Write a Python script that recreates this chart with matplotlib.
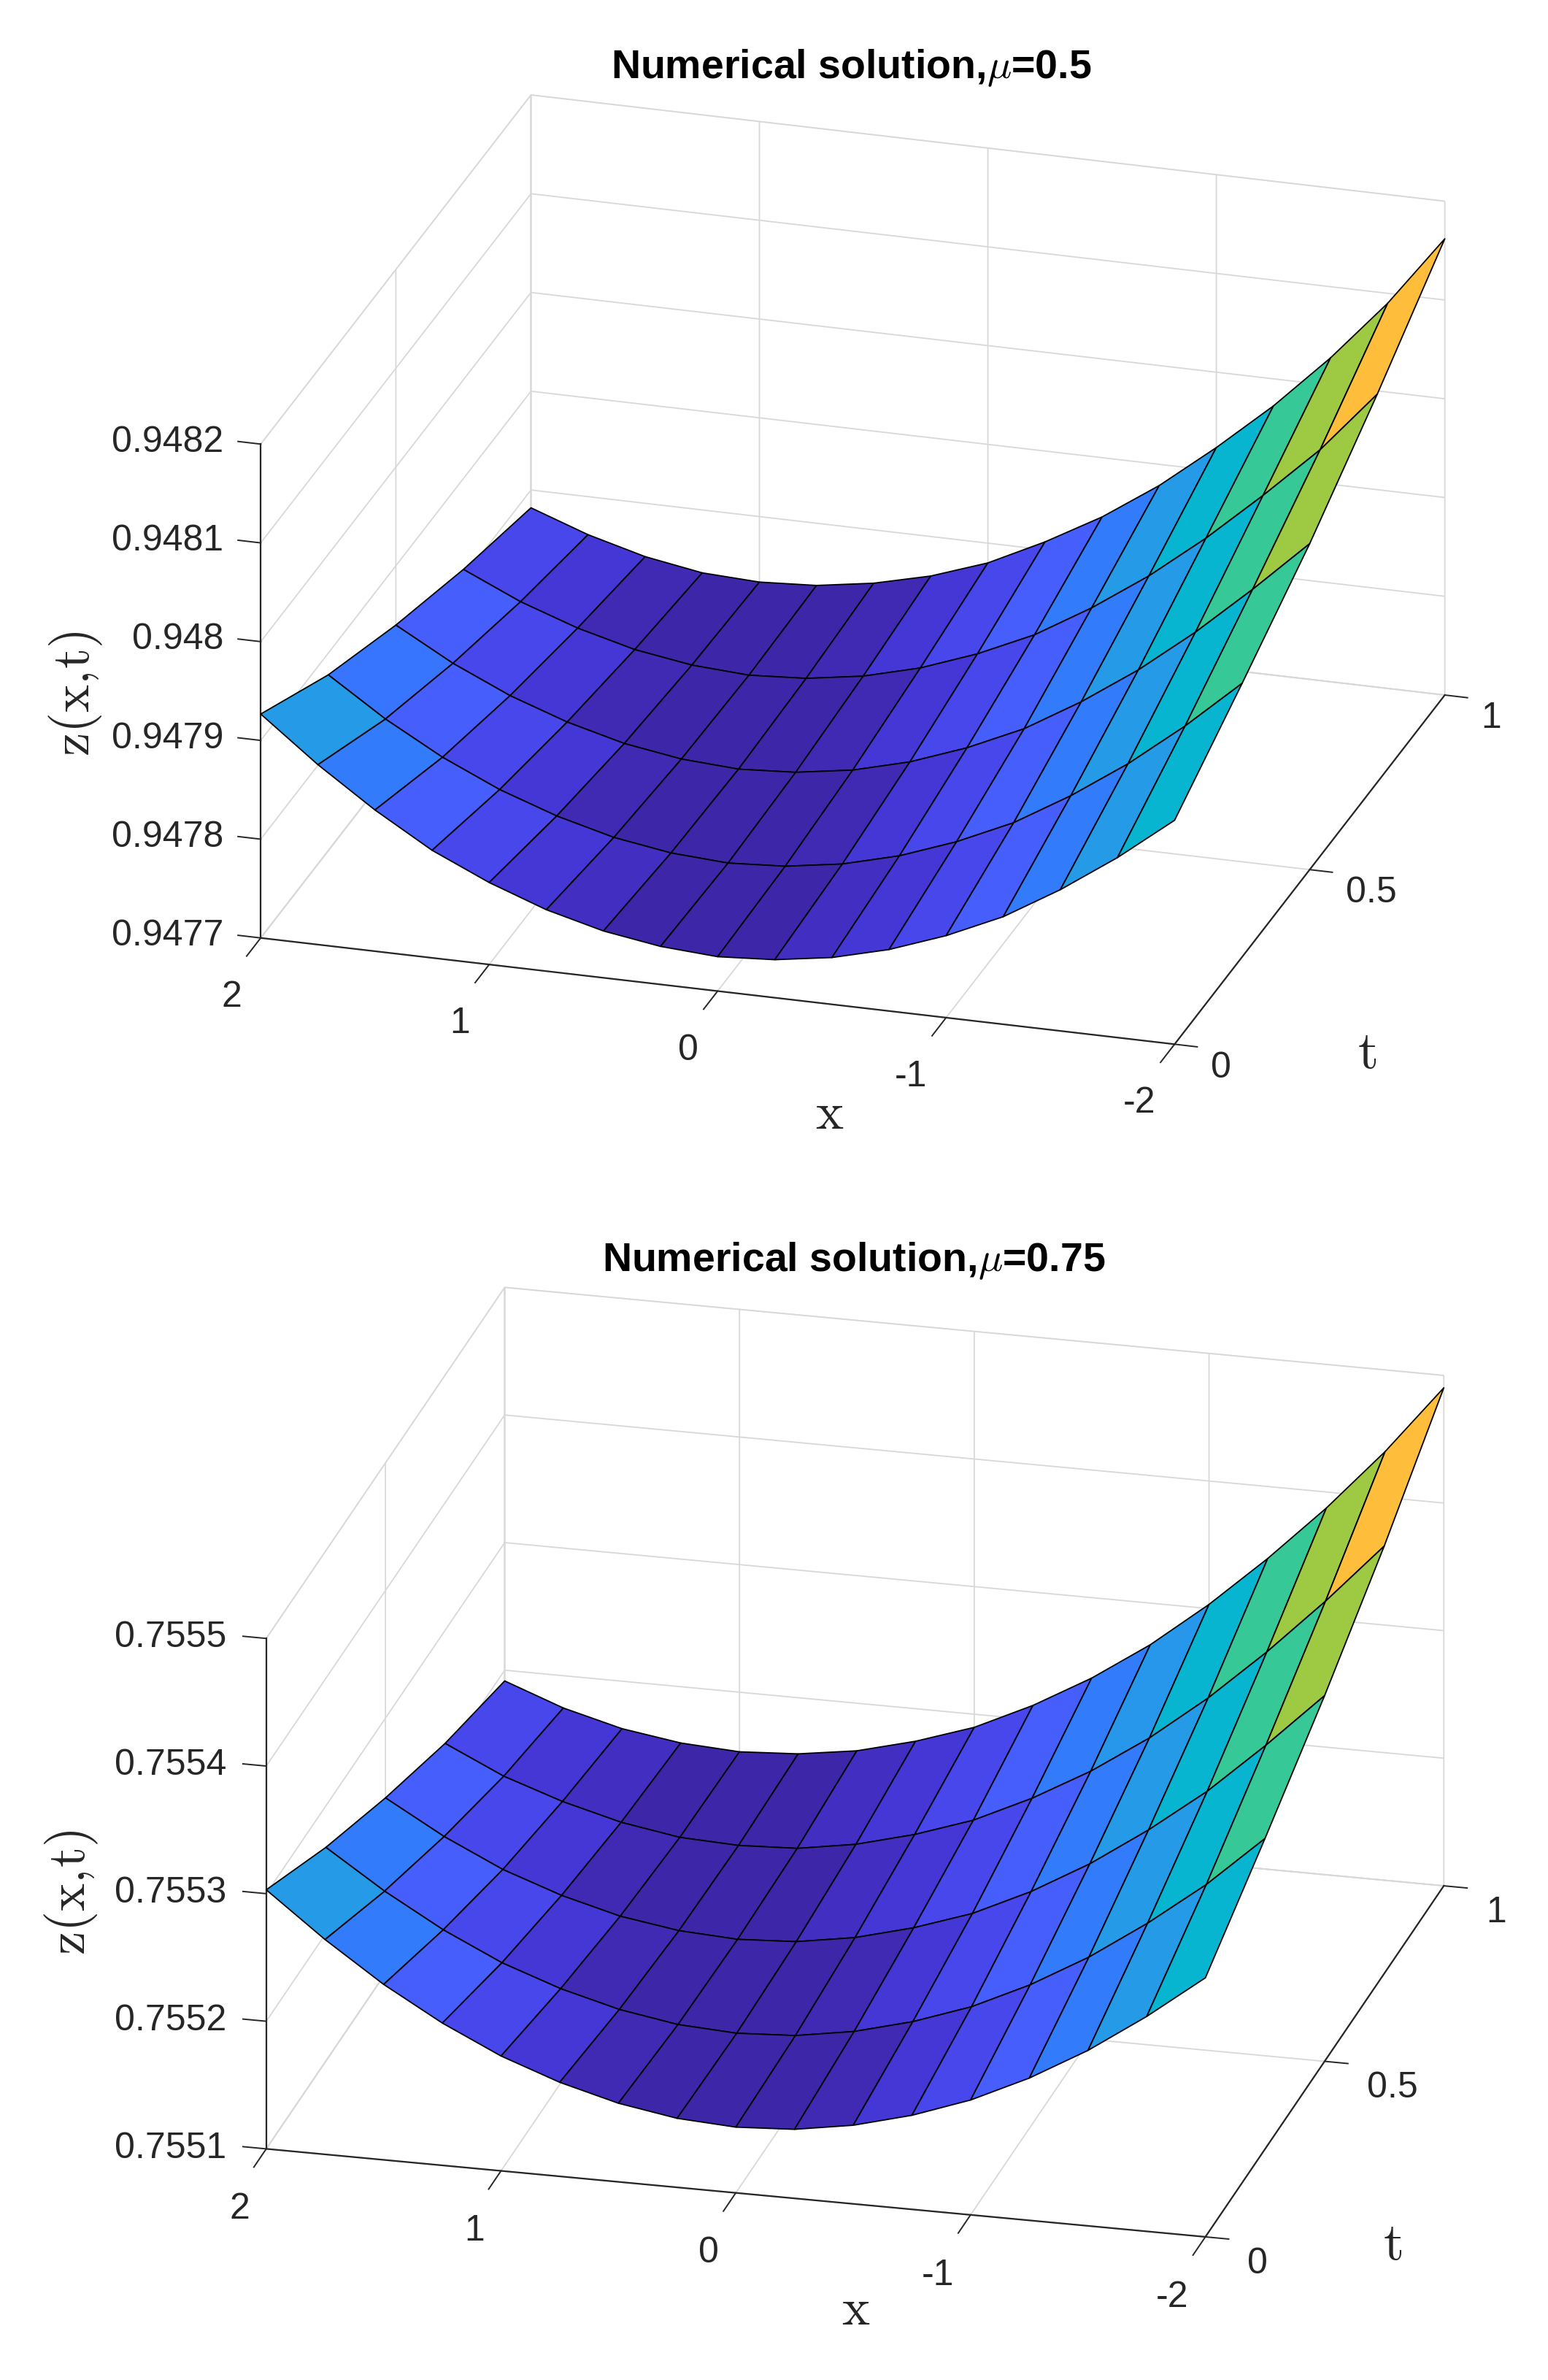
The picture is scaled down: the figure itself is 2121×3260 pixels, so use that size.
import numpy as np
import matplotlib
matplotlib.use("Agg")
import matplotlib.pyplot as plt
from matplotlib.colors import ListedColormap, Normalize

plt.rcParams['font.family'] = ['Liberation Sans', 'DejaVu Sans']
plt.rcParams['mathtext.fontset'] = 'cm'

parula = ListedColormap([
 [0.2422,0.1504,0.6603],[0.2504,0.1650,0.7076],[0.2578,0.1818,0.7511],[0.2647,0.1978,0.7952],
 [0.2706,0.2147,0.8364],[0.2751,0.2342,0.8710],[0.2783,0.2559,0.8991],[0.2803,0.2782,0.9221],
 [0.2813,0.3006,0.9414],[0.2810,0.3228,0.9579],[0.2795,0.3447,0.9717],[0.2760,0.3667,0.9829],
 [0.2699,0.3892,0.9906],[0.2602,0.4123,0.9952],[0.2440,0.4358,0.9988],[0.2206,0.4603,0.9973],
 [0.1963,0.4847,0.9892],[0.1834,0.5074,0.9798],[0.1786,0.5289,0.9682],[0.1764,0.5499,0.9520],
 [0.1687,0.5703,0.9359],[0.1540,0.5902,0.9218],[0.1460,0.6091,0.9079],[0.1380,0.6276,0.8973],
 [0.1248,0.6459,0.8883],[0.1113,0.6635,0.8763],[0.0952,0.6798,0.8598],[0.0689,0.6948,0.8394],
 [0.0297,0.7082,0.8163],[0.0036,0.7203,0.7917],[0.0067,0.7312,0.7660],[0.0433,0.7411,0.7394],
 [0.0964,0.7500,0.7120],[0.1408,0.7584,0.6842],[0.1717,0.7670,0.6554],[0.1938,0.7758,0.6251],
 [0.2161,0.7843,0.5923],[0.2470,0.7918,0.5567],[0.2906,0.7973,0.5188],[0.3406,0.8008,0.4789],
 [0.3909,0.8029,0.4354],[0.4456,0.8024,0.3909],[0.5044,0.7993,0.3480],[0.5616,0.7942,0.3045],
 [0.6174,0.7876,0.2612],[0.6720,0.7793,0.2227],[0.7242,0.7698,0.1910],[0.7738,0.7598,0.1646],
 [0.8203,0.7498,0.1535],[0.8634,0.7406,0.1596],[0.9035,0.7330,0.1774],[0.9393,0.7288,0.2100],
 [0.9728,0.7298,0.2394],[0.9956,0.7434,0.2371],[0.9970,0.7659,0.2199],[0.9952,0.7893,0.2028],
 [0.9892,0.8136,0.1885],[0.9786,0.8386,0.1766],[0.9676,0.8639,0.1643],[0.9610,0.8890,0.1537],
 [0.9597,0.9135,0.1423],[0.9628,0.9373,0.1265],[0.9691,0.9606,0.1064],[0.9769,0.9839,0.0805]])

x_values = [-2.0,-1.75,-1.5,-1.25,-1.0,-0.75,-0.5,-0.25,0.0,0.25,0.5,0.75,1.0,1.25,1.5,1.75,2.0]
t_values = [0.0,0.25,0.5,0.75,1.0]

# z (in units of 1e-4 above the lowest tick), rows t=0..1, columns x=-2..2
z_mu050 = 0.9477 + 1e-4*np.array([
 [2.267,1.822,1.43,1.089,0.83,0.622,0.474,0.385,0.348,0.385,0.474,0.622,0.83,1.089,1.43,1.822,2.267],
 [2.77,2.27,1.82,1.43,1.09,0.83,0.62,0.47,0.38,0.345,0.38,0.47,0.62,0.82,1.08,1.40,1.78],
 [3.30,2.77,2.27,1.82,1.43,1.09,0.83,0.62,0.47,0.38,0.345,0.38,0.47,0.62,0.82,1.08,1.40],
 [3.93,3.30,2.77,2.27,1.82,1.43,1.09,0.83,0.62,0.47,0.38,0.345,0.38,0.47,0.62,0.82,1.08],
 [4.62,3.90,3.28,2.726,2.237,1.785,1.40,1.08,0.80,0.60,0.46,0.37,0.337,0.363,0.46,0.615,0.82]])

z_mu075 = 0.7551 + 1e-4*np.array([
 [2.03,1.684,1.375,1.115,0.90,0.737,0.616,0.541,0.515,0.541,0.616,0.737,0.90,1.115,1.375,1.684,2.03],
 [2.434,2.03,1.684,1.375,1.115,0.90,0.74,0.62,0.545,0.52,0.545,0.62,0.74,0.90,1.115,1.375,1.675],
 [2.866,2.434,2.03,1.684,1.375,1.115,0.90,0.745,0.625,0.55,0.525,0.55,0.62,0.74,0.90,1.115,1.375],
 [3.35,2.875,2.434,2.03,1.674,1.37,1.115,0.90,0.745,0.625,0.55,0.53,0.55,0.625,0.745,0.90,1.114],
 [3.903,3.36,2.875,2.436,2.033,1.674,1.369,1.112,0.897,0.745,0.627,0.56,0.533,0.559,0.628,0.747,0.916]])

z_ticks_050 = [0.9477,0.9478,0.9479,0.948,0.9481,0.9482]
z_labels_050 = ['0.9477','0.9478','0.9479','0.948','0.9481','0.9482']
z_ticks_075 = [0.7551,0.7552,0.7553,0.7554,0.7555]
z_labels_075 = ['0.7551','0.7552','0.7553','0.7554','0.7555']
x_ticks = [-2,-1,0,1,2]
x_labels = ['-2','-1','0','1','2']
t_ticks = [0,0.5,1]
t_labels = ['0','0.5','1']

W, H = 2121, 3260
fig = plt.figure(figsize=(W/100, H/100), dpi=100, facecolor='white')
GRID = '#d8d8d8'
INK = '#262626'

def panel(Z, zticks, zlabels, title, elev, azim, aspect, zoom, center, pads, title_xy, xlab, tlab, zlab):
    A = 1900
    left = (center[0]-0.5135*A)/W
    bottom = 1-(center[1]+(1-0.5135)*A)/H
    ax = fig.add_axes([left, bottom, A/W, A/H], projection='3d', proj_type='ortho')
    ax.view_init(elev=elev, azim=azim)
    ax.set_box_aspect(aspect, zoom=zoom)
    ax.patch.set_alpha(0)
    X, T = np.meshgrid(x_values, t_values)
    colors = parula(Normalize(Z.min(), Z.max())(Z))
    ax.plot_surface(X, T, Z, rstride=1, cstride=1, facecolors=colors, shade=False,
                    edgecolor='black', linewidth=1.3, antialiased=True)
    ax.set_xlim(2, -2); ax.set_ylim(0, 1); ax.set_zlim(zticks[0], zticks[-1])
    ax.set_xticks(x_ticks, x_labels); ax.set_yticks(t_ticks, t_labels); ax.set_zticks(zticks, zlabels)
    ax.zaxis.set_ticks_position('lower')
    ax.zaxis._get_tickdir = lambda position: 0
    for axis, fin, fout in ((ax.xaxis, 0.65, 0.0), (ax.yaxis, 0.31, 0.0), (ax.zaxis, 0.0, 0.31)):
        axis.pane.set_facecolor('white'); axis.pane.set_edgecolor(GRID); axis.pane.set_linewidth(1.3)
        axis.line.set_color(INK); axis.line.set_linewidth(1.6)
        axis._axinfo['grid'].update(color=GRID, linewidth=1.3)
        axis._axinfo['tick'].update(inward_factor=fin, outward_factor=fout, linewidth={True:1.4, False:1.0})
    ax.tick_params(labelsize=36, labelcolor=INK, color=INK, length=14)
    ax.tick_params(axis='x', pad=pads[0]); ax.tick_params(axis='y', pad=pads[1]); ax.tick_params(axis='z', pad=pads[2])
    for axis, ha, va in ((ax.xaxis,'right','center'), (ax.yaxis,'left','center'), (ax.zaxis,'right','baseline')):
        for tk in axis.get_major_ticks():
            tk.label1.set_ha(ha)
            tk.label1.set_va(va)
    fig.text(title_xy[0]/W, 1-title_xy[1]/H, title, ha='center', va='center', fontsize=40, fontweight='bold', color='black')
    fig.text(xlab[0]/W, 1-xlab[1]/H, r'$\mathrm{x}$', ha='center', va='center', fontsize=52, color=INK)
    fig.text(tlab[0]/W, 1-tlab[1]/H, r'$\mathrm{t}$', ha='center', va='center', fontsize=52, color=INK)
    fig.text(zlab[0]/W, 1-zlab[1]/H, r'$\mathrm{z(x,\!t)}$', ha='center', va='center', fontsize=52, color=INK, rotation=90)
    return ax

panel(z_mu050, z_ticks_050, z_labels_050, r'Numerical solution,$\mu$=0.5', 22.8, -73.3, (628,619,352.5), 1.01,
      (1168.4,831.5), (42,20,14.5), (1166,93), (1137,1528), (1873,1444), (104,950))
panel(z_mu075, z_ticks_075, z_labels_075, r'Numerical solution,$\mu$=0.75', 21.8, -75.84, (638,642,362), 1.036,
      (1171.5,2465), (42,24,16), (1170,1727), (1173,3166), (1908,3077), (98,2592))

fig.savefig('out.png', dpi=100, facecolor='white')
